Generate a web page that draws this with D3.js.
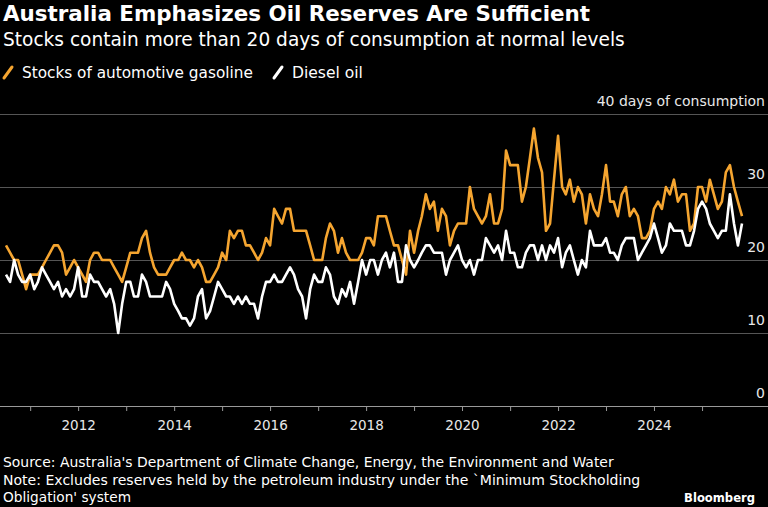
<!DOCTYPE html>
<html>
<head>
<meta charset="utf-8">
<script src="https://cdn.jsdelivr.net/npm/d3@7"></script>
<style>
  html, body { margin: 0; padding: 0; background: #000; }
  svg { display: block; }
  text { font-family: "DejaVu Sans", sans-serif; }
</style>
</head>
<body>
<svg id="chart" width="768" height="507"></svg>
<script>
// ---- Data (monthly, days of consumption) ----
const startYear = 2010, startMonth = 6; // July 2010
const gasoline = [
  22,21,20,20,18,16,18,18,18,19,
  20,21,22,22,21,18,19,20,19,18,
  17,20,21,21,20,20,20,19,18,17,
  19,21,21,21,23,24,21,19,18,18,
  18,19,20,20,21,20,20,19,20,19,
  17,17,18,19,21,20,24,23,24,24,
  22,22,21,20,21,23,22,27,26,25,
  27,27,
  24,24,24,24,22,20,20,20,23,25,24,21,23,21,20,20,20,
  21,23,23,22,26,26,26,24,22,22,20,18,24,21,24,26,29,27,28,24,
  27,26,22,24,25,25,25,30,27,26,25,26,29,25,25,27,
  35,33,33,33,28,30,34,38,34,32,24,
  25,31,37,30,29,31,28,30,29,25,29,27,26,29,33,28,28,26,29,
  30,26,27,26,23,23,24,27,28,27,30,29,31,28,29,29,24,25,30,30,28,31,29,27,28,32,33,30,28,26
];
const diesel = [
  18,17,20,18,17,17,18,16,17,19,
  18,17,16,17,15,16,15,16,19,15,
  15,18,17,17,16,15,16,14,10,14,
  17,17,15,15,18,17,15,15,15,15,
  17,16,14,13,12,12,11,12,15,16,
  12,13,15,17,16,15,15,14,15,14,
  15,14,14,12,15,17,17,18,17,17,
  18,19,
  18,16,15,12,16,18,17,17,19,18,15,14,16,15,17,14,17,
  20,18,20,20,18,20,21,19,21,17,17,22,20,19,20,21,22,22,21,21,
  21,18,20,21,22,20,19,20,18,20,20,23,22,21,22,20,
  24,21,21,19,19,21,22,22,20,22,20,
  22,21,23,19,21,22,20,18,20,19,24,22,22,22,23,21,21,20,22,
  23,23,23,20,21,22,23,25,23,21,22,25,24,24,24,22,22,24,27,28,27,25,24,23,24,24,29,25,22,25
];
const yTicks = [0, 10, 20, 30, 40];
const yTickLabels = ["0", "10", "20", "30", "40 days of consumption"];
const xLabelYears = [2012, 2014, 2016, 2018, 2020, 2022, 2024];
const seriesNames = ["Stocks of automotive gasoline", "Diesel oil"];
const title = "Australia Emphasizes Oil Reserves Are Sufficient";
const subtitle = "Stocks contain more than 20 days of consumption at normal levels";
const sourceLines = [
  "Source: Australia's Department of Climate Change, Energy, the Environment and Water",
  "Note: Excludes reserves held by the petroleum industry under the `Minimum Stockholding",
  "Obligation' system"
];

// ---- Setup ----
const W = 768, H = 507;
const ORANGE = "#f5a530", WHITE = "#ffffff";
const svg = d3.select("#chart");
svg.append("rect").attr("width", W).attr("height", H).attr("fill", "#000");

const n = Math.min(gasoline.length, diesel.length);
const dates = d3.range(n).map(i => new Date(startYear, startMonth + i, 1));

const x = d3.scaleTime().domain(d3.extent(dates)).range([6, 742]);
const y = d3.scaleLinear().domain([0, 40]).range([406, 114]);

function fit(sel, w) {
  const L = sel.node().getComputedTextLength();
  const fs = parseFloat(sel.attr("font-size"));
  if (L > 0) sel.attr("font-size", (fs * w / L).toFixed(2));
  return sel;
}

// ---- Title / subtitle ----
fit(svg.append("text").attr("x", 3).attr("y", 21).attr("font-size", 19)
  .attr("font-weight", "bold").attr("fill", "#fff").text(title), 587);
fit(svg.append("text").attr("x", 3).attr("y", 46).attr("font-size", 17)
  .attr("fill", "#fff").text(subtitle), 622);

// ---- Legend ----
const legend = [
  { name: seriesNames[0], color: ORANGE, ix: 4, tx: 22, w: 231 },
  { name: seriesNames[1], color: WHITE, ix: 274, tx: 292, w: 71 }
];
legend.forEach(d => {
  svg.append("line").attr("x1", d.ix).attr("y1", 78).attr("x2", d.ix + 8).attr("y2", 67)
    .attr("stroke", d.color).attr("stroke-width", 3).attr("stroke-linecap", "round");
  fit(svg.append("text").attr("x", d.tx).attr("y", 78).attr("font-size", 15)
    .attr("fill", "#fff").text(d.name), d.w);
});

// ---- Grid & y labels ----
const grid = svg.append("g");
yTicks.filter(v => v > 0).forEach(v => {
  grid.append("line").attr("x1", 0).attr("x2", W).attr("y1", y(v)).attr("y2", y(v))
    .attr("stroke", "#555").attr("stroke-width", 1).attr("shape-rendering", "crispEdges");
});
yTicks.forEach((v, i) => {
  svg.append("text").attr("x", 765).attr("y", y(v) - 8.5).attr("text-anchor", "end")
    .attr("font-size", 14).attr("fill", "#e8e8e8").text(yTickLabels[i]);
});

// ---- X axis ----
const xAxis = d3.axisBottom(x)
  .ticks(d3.timeYear.every(1))
  .tickSize(5)
  .tickPadding(9)
  .tickFormat(d => xLabelYears.includes(d.getFullYear()) ? d3.timeFormat("%Y")(d) : "");
const gx = svg.append("g").attr("transform", `translate(0,${y(0)})`).call(xAxis);
gx.select(".domain").remove();
gx.selectAll(".tick line").attr("stroke", "#999");
gx.selectAll(".tick text").attr("fill", "#e8e8e8").attr("font-size", 13.5)
  .attr("font-family", "DejaVu Sans, sans-serif");
svg.append("line").attr("x1", 0).attr("x2", W).attr("y1", y(0)).attr("y2", y(0))
  .attr("stroke", "#999").attr("stroke-width", 1).attr("shape-rendering", "crispEdges");

// ---- Lines ----
const line = d3.line().x((d, i) => x(dates[i])).y(d => y(d));
svg.append("path").datum(gasoline.slice(0, n)).attr("d", line)
  .attr("fill", "none").attr("stroke", ORANGE).attr("stroke-width", 2.6)
  .attr("stroke-linejoin", "round");
svg.append("path").datum(diesel.slice(0, n)).attr("d", line)
  .attr("fill", "none").attr("stroke", WHITE).attr("stroke-width", 2.6)
  .attr("stroke-linejoin", "round");

// ---- Source / notes ----
const srcW = [611, 638, 128];
sourceLines.forEach((s, i) => {
  fit(svg.append("text").attr("x", 3).attr("y", 467 + i * 17.5).attr("font-size", 13.5)
    .attr("fill", "#fff").text(s), srcW[i]);
});
fit(svg.append("text").attr("x", 755).attr("y", 502).attr("text-anchor", "end")
  .attr("font-size", 14).attr("font-weight", "bold").attr("fill", "#fff").text("Bloomberg"), 71);
</script>
</body>
</html>
